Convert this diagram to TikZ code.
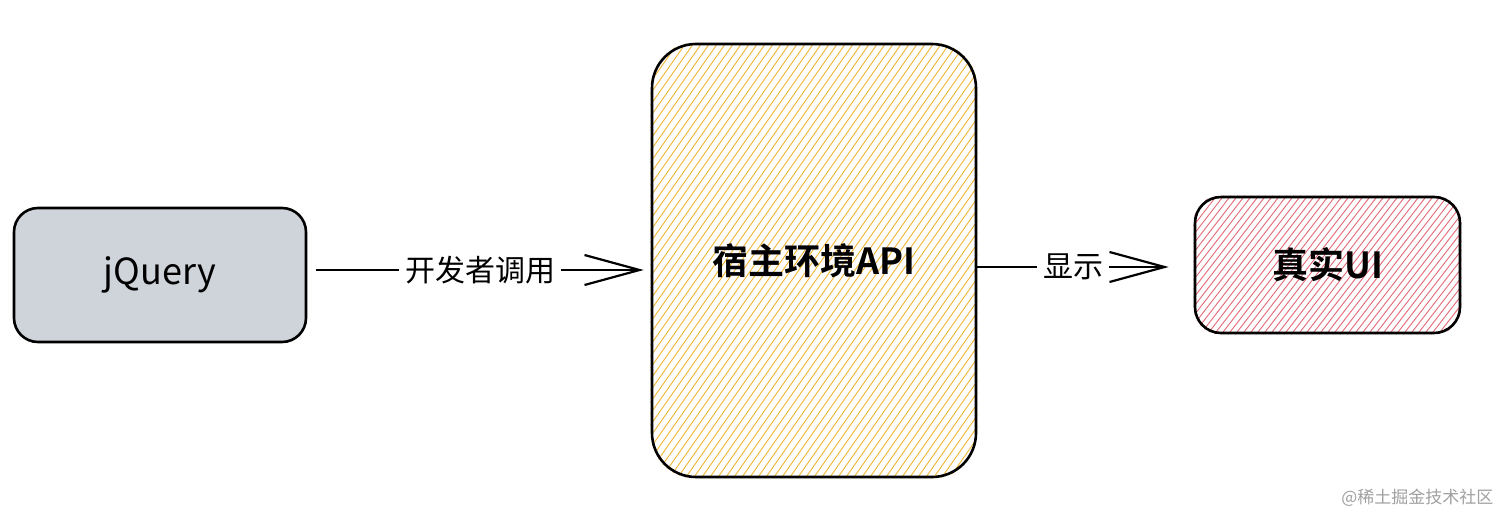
\documentclass[tikz,border=0pt]{standalone}
\usepackage{fontspec}
\setmainfont{Noto Sans CJK SC}[BoldFont={Noto Sans CJK SC Bold}]
\usetikzlibrary{arrows.meta,backgrounds}
\definecolor{boxgray}{HTML}{CED4DA}
\definecolor{hatchyellow}{HTML}{F2B636}
\definecolor{hatchred}{HTML}{E36A78}
\definecolor{wmgray}{HTML}{A0A0A0}
\tikzset{
  sketchbox/.style={draw=black, line width=2.6pt, inner sep=0pt},
  hatchY/.style={draw=hatchyellow, line width=0.9pt},
  hatchR/.style={draw=hatchred, line width=0.9pt},
  conn/.style={draw=black, line width=2.2pt, -{Straight Barb[length=55pt,width=30pt,line width=2.2pt]}},
  lbl/.style={fill=white, inner xsep=6pt, inner ysep=2pt, font=\fontsize{30}{34}\selectfont},
  boxtext/.style={font=\fontsize{36}{40}\selectfont\bfseries}
}
\begin{document}
\begin{tikzpicture}[x=1pt,y=-1pt]
\useasboundingbox (0,0) rectangle (1512,517);
% nodes
\node[sketchbox, fill=boxgray, rounded corners=24pt, minimum width=292pt, minimum height=134pt, font=\fontsize{36}{40}\selectfont] (jq) at (160,275) {jQuery};
\node[sketchbox, rounded corners=44pt, minimum width=324pt, minimum height=433pt, boxtext] (api) at (814,260.5) {宿主环境API};
\node[sketchbox, rounded corners=26pt, minimum width=265pt, minimum height=136pt, boxtext] (ui) at (1327.5,265) {真实UI};
% hachure fills
\begin{scope}[on background layer]
  \fill[white] (0,0) rectangle (1512,517);
  \begin{scope}
    \clip[rounded corners=44pt] (api.south west) rectangle (api.north east);
    \foreach \i in {-420,-412,...,990} \draw[hatchY] (\i,480) -- ++(350,-500);
  \end{scope}
  \begin{scope}
    \clip[rounded corners=26pt] (ui.south west) rectangle (ui.north east);
    \foreach \i in {1080,1087,...,1470} \draw[hatchR] (\i,336) -- ++(110,-142);
  \end{scope}
\end{scope}
% connector coordinates
\coordinate (a1s) at ([xshift=9pt]jq.east |- 0,270);
\coordinate (a1e) at ([xshift=-7pt]api.west |- 0,270);
\coordinate (a2s) at (api.east |- 0,267);
\coordinate (a2e) at ([xshift=-25pt]ui.west |- 0,267);
\draw[conn] (a1s) -- node[lbl] {开发者调用} (a1e);
\draw[conn] (a2s) -- node[lbl] {显示} (a2e);
% watermark
\node[text=wmgray, font=\fontsize{17}{20}\selectfont, anchor=east] (wm) at (1497,498) {@稀土掘金技术社区};
\end{tikzpicture}
\end{document}
